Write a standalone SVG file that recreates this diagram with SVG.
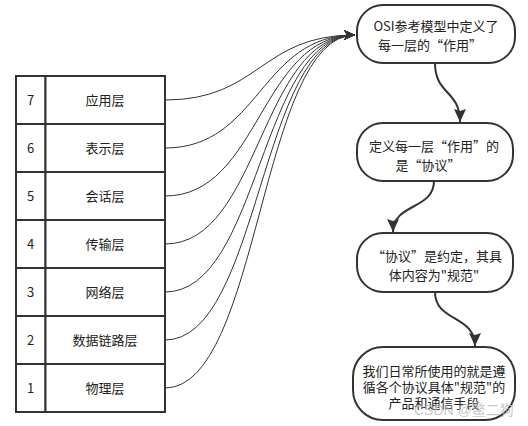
<svg xmlns="http://www.w3.org/2000/svg" width="528" height="426" viewBox="0 0 528 426">
<style>
.cell{fill:#ffffff;stroke:#333333;stroke-width:2}
.t{font-family:"Noto Sans CJK SC","Microsoft YaHei",sans-serif;font-size:13px;fill:#222222;text-anchor:middle}
.box{fill:#ffffff;stroke:#333333;stroke-width:2}
.thin{fill:none;stroke:#333333;stroke-width:1}
.thick{fill:none;stroke:#333333;stroke-width:2}
.wm{font-family:"Liberation Sans","Noto Sans CJK SC",sans-serif;font-size:14px;fill:#bbbbbb;fill-opacity:0.8}
</style>
<defs>
<marker id="a1" markerUnits="userSpaceOnUse" markerWidth="12" markerHeight="10" refX="11" refY="5" orient="auto">
<path d="M0,0 L11,5 L0,10 L3,5 Z" fill="#333333"/>
</marker>
<marker id="a2" markerUnits="userSpaceOnUse" markerWidth="14" markerHeight="12" refX="13" refY="6" orient="auto">
<path d="M0,0 L13,6 L0,12 L2,6 Z" fill="#333333"/>
</marker>
</defs>
<rect width="528" height="426" fill="#ffffff"/>
<g id="table">
<g id="layer7"><rect class="cell" x="16" y="76" width="29.5" height="48"/><rect class="cell" x="45.5" y="76" width="119.5" height="48"/><text class="t" x="30.5" y="105">7</text><text class="t" x="105" y="105">应用层</text></g>
<g id="layer6"><rect class="cell" x="16" y="124" width="29.5" height="48"/><rect class="cell" x="45.5" y="124" width="119.5" height="48"/><text class="t" x="30.5" y="153">6</text><text class="t" x="105" y="153">表示层</text></g>
<g id="layer5"><rect class="cell" x="16" y="172" width="29.5" height="48"/><rect class="cell" x="45.5" y="172" width="119.5" height="48"/><text class="t" x="30.5" y="201">5</text><text class="t" x="105" y="201">会话层</text></g>
<g id="layer4"><rect class="cell" x="16" y="220" width="29.5" height="48"/><rect class="cell" x="45.5" y="220" width="119.5" height="48"/><text class="t" x="30.5" y="249">4</text><text class="t" x="105" y="249">传输层</text></g>
<g id="layer3"><rect class="cell" x="16" y="268" width="29.5" height="48"/><rect class="cell" x="45.5" y="268" width="119.5" height="48"/><text class="t" x="30.5" y="297">3</text><text class="t" x="105" y="297">网络层</text></g>
<g id="layer2"><rect class="cell" x="16" y="316" width="29.5" height="48"/><rect class="cell" x="45.5" y="316" width="119.5" height="48"/><text class="t" x="30.5" y="345">2</text><text class="t" x="105" y="345">数据链路层</text></g>
<g id="layer1"><rect class="cell" x="16" y="364" width="29.5" height="48"/><rect class="cell" x="45.5" y="364" width="119.5" height="48"/><text class="t" x="30.5" y="393">1</text><text class="t" x="105" y="393">物理层</text></g>
</g>
<g id="box1"><rect class="box" x="357" y="5" width="158" height="58" rx="26" ry="26"/><text class="t" x="436" y="31">OSI参考模型中定义了</text><text class="t" x="430" y="50">每一层的“作用”</text></g>
<g id="box2"><rect class="box" x="357" y="123" width="156" height="58" rx="26" ry="26"/><text class="t" x="434" y="151">定义每一层“作用”的</text><text class="t" x="428" y="170">是“协议”</text></g>
<g id="box3"><rect class="box" x="357" y="233" width="156" height="59" rx="26" ry="26"/><text class="t" x="437" y="261">“协议”是约定，其具</text><text class="t" x="434" y="280">体内容为"规范"</text></g>
<g id="box4"><rect class="box" x="353" y="347" width="162" height="73" rx="30" ry="30"/><text class="t" x="434" y="376">我们日常所使用的就是遵</text><text class="t" x="434" y="392">循各个协议具体"规范"的</text><text class="t" x="434" y="408">产品和通信手段</text></g>
<g id="connectors">
<path class="thin" d="M165,100 C260,100 260,35 355,35" marker-end="url(#a1)"/>
<path class="thin" d="M165,148 C260,148 260,35 355,35" marker-end="url(#a1)"/>
<path class="thin" d="M165,196 C260,196 260,35 355,35" marker-end="url(#a1)"/>
<path class="thin" d="M165,244 C260,244 260,35 355,35" marker-end="url(#a1)"/>
<path class="thin" d="M165,292 C260,292 260,35 355,35" marker-end="url(#a1)"/>
<path class="thin" d="M165,340 C260,340 260,35 355,35" marker-end="url(#a1)"/>
<path class="thin" d="M165,388 C260,388 260,35 355,35" marker-end="url(#a1)"/>
<path class="thick" d="M435,63 C435,95 460,90 460,122" marker-end="url(#a2)"/>
<path class="thick" d="M434,181 C434,210 393,203 393,232" marker-end="url(#a2)"/>
<path class="thick" d="M435,292 C435,322 475,315 475,346" marker-end="url(#a2)"/>
</g>
<text class="wm" x="414" y="415">CSDN @鳖二狗</text>
</svg>
